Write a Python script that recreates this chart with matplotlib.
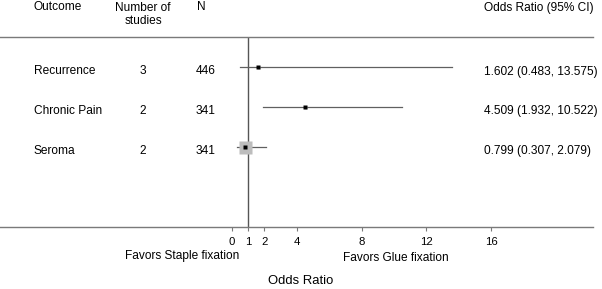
import matplotlib
matplotlib.use("Agg")
import matplotlib.pyplot as plt
import matplotlib.transforms as mtransforms

plt.rcParams['font.family'] = ['Liberation Sans', 'DejaVu Sans']

# ---- data ----
outcomes = ["Recurrence", "Chronic Pain", "Seroma"]
n_studies = [3, 2, 2]
n_patients = [446, 341, 341]
odds_ratio = [1.602, 4.509, 0.799]
ci_low = [0.483, 1.932, 0.307]
ci_high = [13.575, 10.522, 2.079]
x_ticks = [0, 1, 2, 4, 8, 12, 16]

W, H = 602, 289
fig = plt.figure(figsize=(W / 100, H / 100), dpi=100)

# layout in pixels
top_px, bot_px = 37, 227
x_zero_px, px_per_unit = 232, 16.2
row0_px, row_step_px = 67, 39.8
line_end_px = 593

ax = fig.add_axes([0, (H - bot_px) / H, 1, (bot_px - top_px) / H])
xmin = -x_zero_px / px_per_unit
xmax = (W - x_zero_px) / px_per_unit
ax.set_xlim(xmin, xmax)
ax.set_ylim((bot_px - row0_px) / row_step_px, (top_px - row0_px) / row_step_px)

for s in ['left', 'right']:
    ax.spines[s].set_visible(False)
for s in ['top', 'bottom']:
    ax.spines[s].set_color('#7a7a7a')
    ax.spines[s].set_linewidth(1.0)
    ax.spines[s].set_bounds(xmin, (line_end_px - x_zero_px) / px_per_unit)

ax.set_yticks([])
ax.set_xticks(x_ticks)
ax.set_xticklabels([str(t) for t in x_ticks], fontsize=8.2)
ax.tick_params(axis='x', length=3, width=0.8, color='#7a7a7a', pad=4.5)

ax.axvline(1, color='#555555', lw=1.0, zorder=2)

box_px = [3, 3, 13]
for i, (o, lo, hi) in enumerate(zip(odds_ratio, ci_low, ci_high)):
    ax.plot([lo, hi], [i, i], color='#606060', lw=0.9, zorder=3)
    ax.plot([o], [i], marker='s', ms=box_px[i] * 0.72, mfc='#bdbdbd',
            mec='none', zorder=3)
    ax.plot([o], [i], marker='s', ms=2.2, mfc='black', mec='none', zorder=4)

# texts
def fy(y_px):
    return 1 - y_px / H

tr = mtransforms.blended_transform_factory(fig.transFigure, ax.transData)
fs = 8.6
text_off = 4.5 / row_step_px
for i in range(len(outcomes)):
    y = i + text_off
    ax.text(34 / W, y, outcomes[i], transform=tr, ha='left', va='center', fontsize=fs)
    ax.text(143 / W, y, str(n_studies[i]), transform=tr, ha='center', va='center', fontsize=fs)
    ax.text(196 / W, y, str(n_patients[i]), transform=tr, ha='left', va='center', fontsize=fs)
    ax.text(484 / W, y, f"{odds_ratio[i]:.3f} ({ci_low[i]:.3f}, {ci_high[i]:.3f})",
            transform=tr, ha='left', va='center', fontsize=fs)

fig.text(34 / W, fy(7.5), "Outcome", ha='left', va='center', fontsize=fs)
fig.text(143 / W, fy(14.5), "Number of\nstudies", ha='center', va='center',
         fontsize=fs, linespacing=1.15)
fig.text(197 / W, fy(7.5), "N", ha='left', va='center', fontsize=fs)
fig.text(484 / W, fy(7.5), "Odds Ratio (95% CI)", ha='left', va='center', fontsize=fs)

fig.text(182.5 / W, fy(256), "Favors Staple fixation", ha='center', va='center', fontsize=fs)
fig.text(396 / W, fy(258), "Favors Glue fixation", ha='center', va='center', fontsize=fs)
fig.text(300.5 / W, fy(281), "Odds Ratio", ha='center', va='center', fontsize=9.4)

fig.savefig("out.png", dpi=100)
